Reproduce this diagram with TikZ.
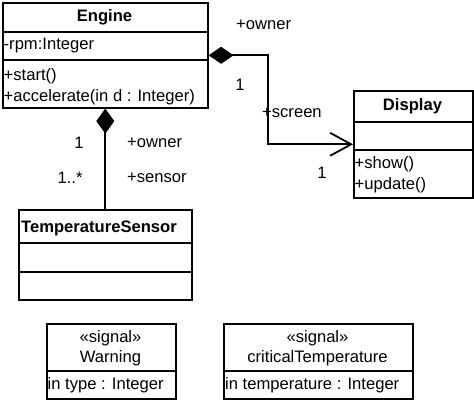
\documentclass[tikz,border=0pt]{standalone}
\usepackage{fontspec}
\setmainfont{Liberation Sans}
\usetikzlibrary{arrows.meta}
\begin{document}
\begin{tikzpicture}[x=1pt,y=-1pt,
  box/.style={draw,line width=1.6pt,rectangle,inner sep=0pt,anchor=north west},
  sep/.style={line width=1.6pt},
  txt/.style={inner sep=0pt,font=\fontsize{16.6}{19}\selectfont},
  ltxt/.style={txt,anchor=west},
  ttl/.style={txt,font=\fontsize{16.6}{19}\selectfont\bfseries},
  conn/.style={line width=1.8pt}]
\useasboundingbox (0,0) rectangle (474,400);
% Engine
\node[box,minimum width=205pt,minimum height=105pt] (engine) at (2,2) {};
\draw[sep] (2,32) -- (207,32);
\draw[sep] (2,60) -- (207,60);
\node[ttl] (engtitle) at (104.5,17) {Engine};
\node[ltxt] (engattr) at (3.5,46) {-rpm:Integer};
\node[ltxt] (engop1) at (3.5,76) {+start()};
\node[ltxt] (engop2) at (3.5,97) {+accelerate(in d : Integer)};
% Display
\node[box,minimum width=119pt,minimum height=107pt] (display) at (353,90) {};
\draw[sep] (353,122) -- (472,122);
\draw[sep] (353,150) -- (472,150);
\node[ttl] (distitle) at (412.5,106) {Display};
\node[ltxt] (disop1) at (354.5,164) {+show()};
\node[ltxt] (disop2) at (354.5,185) {+update()};
% TemperatureSensor
\node[box,minimum width=173pt,minimum height=90pt] (sensor) at (18,209) {};
\draw[sep] (18,243) -- (191,243);
\draw[sep] (18,272) -- (191,272);
\node[ttl,anchor=west] (sentitle) at (21,228) {TemperatureSensor};
% Warning
\node[box,minimum width=129pt,minimum height=75pt] (warning) at (46,323) {};
\draw[sep] (46,371) -- (175,371);
\node[txt] (warnst) at (110.5,338) {«signal»};
\node[txt] (warnname) at (110.5,358) {Warning};
\node[ltxt] (warnattr) at (47.5,385) {in type : Integer};
% criticalTemperature
\node[box,minimum width=189pt,minimum height=75pt] (crit) at (223,323) {};
\draw[sep] (223,371) -- (412,371);
\node[txt] (critst) at (317.5,338) {«signal»};
\node[txt] (critname) at (317.5,358) {criticalTemperature};
\node[ltxt] (critattr) at (225,385) {in temperature : Integer};
% connectors
\coordinate (bendx) at (268,0);
\draw[conn,{Diamond[length=25pt,width=17pt]}-{Straight Barb[length=21pt,width=23pt,line width=1.8pt]}]
  (engine.east) -- (engine.east -| bendx) |- (display.west);
\draw[conn,{Diamond[length=25pt,width=18pt]}-] (engine.south) -- (sensor.north);
% labels
\node[ltxt] (l1) at (236,25) {+owner};
\node[txt] (l2) at (240,85) {1};
\node[ltxt] (l3) at (262,113) {+screen};
\node[txt] (l4) at (322,173) {1};
\node[txt] (l5) at (79,143) {1};
\node[ltxt] (l6) at (127,143) {+owner};
\node[txt] (l7) at (70,178) {1..*};
\node[ltxt] (l8) at (127,178) {+sensor};
\end{tikzpicture}
\end{document}
